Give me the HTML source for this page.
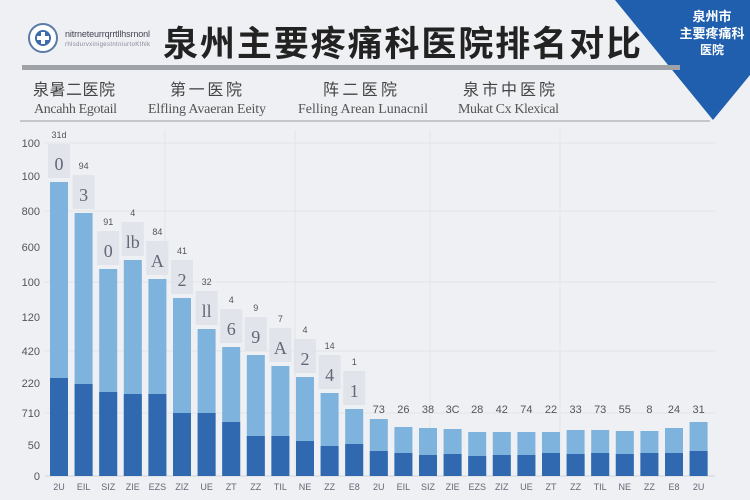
<!DOCTYPE html>
<html><head><meta charset="utf-8"><style>
body{margin:0;width:750px;height:500px;overflow:hidden;background:#eef0f3;font-family:"Liberation Sans","Noto Sans CJK SC",sans-serif}
</style></head><body>
<svg width="750" height="500" xmlns="http://www.w3.org/2000/svg" style="position:absolute;left:0;top:0">
<rect width="750" height="500" fill="#eef0f3"/>
<g stroke="#e2e5ea" stroke-width="1">
<line x1="45" y1="143" x2="715" y2="143"/><line x1="45" y1="211" x2="715" y2="211"/><line x1="45" y1="282" x2="715" y2="282"/><line x1="45" y1="351" x2="715" y2="351"/><line x1="45" y1="413" x2="715" y2="413"/>
<line x1="165" y1="130" x2="165" y2="476"/><line x1="295" y1="130" x2="295" y2="476"/><line x1="430" y1="130" x2="430" y2="476"/><line x1="560" y1="130" x2="560" y2="476"/>
</g>
<polygon points="615,0 750,0 750,75 713,120" fill="#1f5fae"/>
<text x="712" y="21" font-size="13" font-weight="bold" fill="#fff" text-anchor="middle" font-family="Noto Sans CJK SC,sans-serif">泉州市</text>
<text x="712" y="38" font-size="13" font-weight="bold" fill="#fff" text-anchor="middle" font-family="Noto Sans CJK SC,sans-serif">主要疼痛科</text>
<text x="712" y="54" font-size="12" font-weight="bold" fill="#fff" text-anchor="middle" font-family="Noto Sans CJK SC,sans-serif">医院</text>
<circle cx="43" cy="38" r="14" fill="#fff" stroke="#5a7ba8" stroke-width="2"/>
<circle cx="43" cy="38" r="8" fill="#3d6cae"/>
<rect x="41" y="32" width="4" height="12" fill="#fff"/><rect x="37" y="36" width="12" height="4" fill="#fff"/>
<text x="65" y="37" font-size="9" fill="#445" textLength="85">nitrneteurrqrrtllhsrnonl</text>
<text x="65" y="46" font-size="6" fill="#889" textLength="85">rhlsdurvxinigestntniurtoKthlk</text>
<text x="163" y="56" font-size="35" font-weight="bold" fill="#222" textLength="478" font-family="Noto Sans CJK SC,sans-serif">泉州主要疼痛科医院排名对比</text>
<rect x="22" y="65" width="658" height="5" fill="#9fa2a6"/>
<line x1="20" y1="121" x2="710" y2="121" stroke="#b5b8bc" stroke-width="1.5"/>
<g font-family="Noto Sans CJK SC,sans-serif" font-size="16" fill="#444">
<text x="33" y="95" textLength="82">泉暑二医院</text><text x="170" y="95" textLength="72">第一医院</text><text x="323" y="95" textLength="74">阵二医院</text><text x="463" y="95" textLength="92">泉市中医院</text>
</g>
<g font-family="Liberation Serif,serif" font-size="14" fill="#555">
<text x="34" y="113" textLength="83">Ancahh Egotail</text><text x="148" y="113" textLength="118">Elfling Avaeran Eeity</text><text x="298" y="113" textLength="130">Felling Arean Lunacnil</text><text x="458" y="113" textLength="101">Mukat Cx Klexical</text>
</g>
<g font-size="11" fill="#555" text-anchor="end">
<text x="40" y="147">100</text><text x="40" y="180">100</text><text x="40" y="215">800</text><text x="40" y="251">600</text><text x="40" y="286">100</text><text x="40" y="321">120</text><text x="40" y="355">420</text><text x="40" y="387">220</text><text x="40" y="417">710</text><text x="40" y="449">50</text><text x="40" y="480">0</text>
</g>
<line x1="45" y1="476" x2="715" y2="476" stroke="#cfd3d8"/>
<g id="bars"></g>
</svg>
<script>
var L=[182,213,269,260,279,298,329,347,355,366,377,393,409,419,427,428,429,432,432,432,432,430,430,431,431,428,422];
var D=[378,384,392,394,394,413,413,422,436,436,441,446,444,451,453,455,454,456,455,455,453,454,453,454,453,453,451];
var labs=["31d","94","91","4","84","41","32","4","9","7","4","14","1","73","26","38","3C","28","42","74","22","33","73","55","8","24","31"];
var big=["0","3","0","lb","A","2","ll","6","9","A","2","4","1"];
var g=document.getElementById('bars'),s='';
for(var i=0;i<27;i++){var x=50+i*24.6;
s+='<rect x="'+x+'" y="'+L[i]+'" width="18" height="'+(476-L[i])+'" fill="#7db3dd"/>';
s+='<rect x="'+x+'" y="'+D[i]+'" width="18" height="'+(476-D[i])+'" fill="#3069b0"/>';
if(i<13){s+='<rect x="'+(x-2)+'" y="'+(L[i]-38)+'" width="22" height="34" fill="#dde1e7" opacity="0.8"/>';
s+='<text x="'+(x+9)+'" y="'+(L[i]-12)+'" font-size="18" fill="#667" text-anchor="middle" font-family="Liberation Serif,serif">'+big[i]+'</text>';
s+='<text x="'+(x+9)+'" y="'+(L[i]-44)+'" font-size="9" fill="#555" text-anchor="middle">'+labs[i]+'</text>';}
else{s+='<text x="'+(x+9)+'" y="413" font-size="11" fill="#555" text-anchor="middle">'+labs[i]+'</text>';}
s+='<text x="'+(x+9)+'" y="490" font-size="9" fill="#667" text-anchor="middle">'+["2U","EIL","SIZ","ZIE","EZS","ZIZ","UE","ZT","ZZ","TIL","NE","ZZ","E8"][i%13]+'</text>';}
g.innerHTML=s;
</script>
</body></html>
